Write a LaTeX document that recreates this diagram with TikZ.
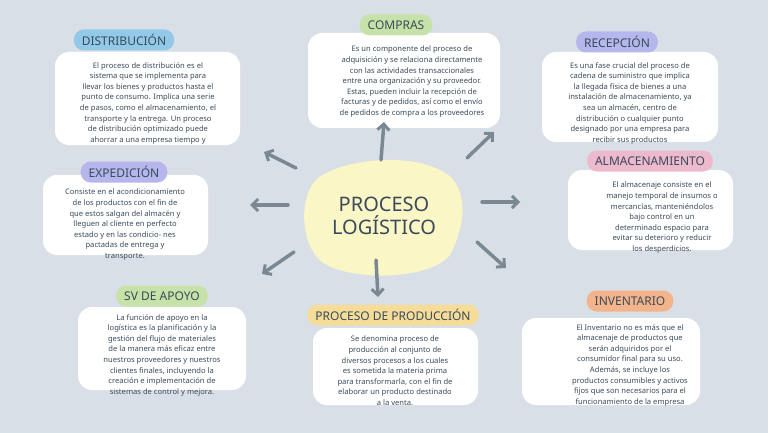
\documentclass[tikz,border=0pt]{standalone}
\usepackage{fontspec}
\setmainfont{Noto Sans}
\usetikzlibrary{arrows.meta}
\definecolor{bg}{HTML}{D9DFE6}
\definecolor{txt}{HTML}{3A4A5A}
\definecolor{arr}{HTML}{7A8893}
\definecolor{cblue}{HTML}{93C9E8}
\definecolor{cgreen}{HTML}{C7E2A8}
\definecolor{cpurple}{HTML}{B4B6EC}
\definecolor{cpink}{HTML}{EDB9CD}
\definecolor{cyellow}{HTML}{F5DC98}
\definecolor{corange}{HTML}{F3B48B}
\definecolor{cblob}{HTML}{FBF6C6}
\tikzset{
  card/.style={fill=white, draw=none, rounded corners=14pt},
  pill/.style={rounded corners=10pt, inner xsep=8pt, minimum height=21pt, font=\fontsize{12}{14}\selectfont, text=txt},
  body/.style={align=center, anchor=north, text=txt, inner sep=0pt, font=\fontsize{7.6}{10.6}\selectfont},
  arrw/.style={draw=arr, line width=3.5pt, line cap=round, -{Straight Barb[length=6pt,width=12pt,line width=3pt]}}
}
\begin{document}
\begin{tikzpicture}[x=1pt,y=-1pt]
\fill[bg] (0,0) rectangle (768,433);
\useasboundingbox (0,0) rectangle (768,433);
\fill[card] (55,52) rectangle (240,145);
\fill[card] (308,33) rectangle (500,128);
\fill[card] (542,52) rectangle (718,142);
\fill[card] (43,175) rectangle (208,255);
\fill[card] (568,170) rectangle (733,250);
\fill[card] (78,307) rectangle (246,390);
\fill[card] (313,328) rectangle (478,405);
\fill[card] (522,318) rectangle (700,405);
\fill[cblob] (318,178) .. controls (345,158) and (420,150) .. (452,178)
  .. controls (470,200) and (462,232) .. (450,255)
  .. controls (430,280) and (350,282) .. (322,262)
  .. controls (300,245) and (298,195) .. (318,178) -- cycle;
\node[text=txt, align=center, font=\fontsize{20}{23}\selectfont] (center) at (384,216) {PROCESO\\LOGÍSTICO};
\node[pill, fill=cblue] (t1) at (124,40) {DISTRIBUCIÓN};
\node[pill, fill=cgreen] (t2) at (396,25) {COMPRAS};
\node[pill, fill=cpurple] (t3) at (617,42) {RECEPCIÓN};
\node[pill, fill=cpurple] (t4) at (124,172) {EXPEDICIÓN};
\node[pill, fill=cpink] (t5) at (650,161) {ALMACENAMIENTO};
\node[pill, fill=cgreen] (t6) at (162,296) {SV DE APOYO};
\node[pill, fill=cyellow] (t7) at (393,315) {PROCESO DE PRODUCCIÓN};
\node[pill, fill=corange] (t8) at (630,301) {INVENTARIO};
\node[body] (b1) at (148,62) {El proceso de distribución es el\\sistema que se implementa para\\llevar los bienes y productos hasta el\\punto de consumo. Implica una serie\\de pasos, como el almacenamiento, el\\transporte y la entrega. Un proceso\\de distribución optimizado puede\\ahorrar a una empresa tiempo y};
\node[body] (b2) at (412,46) {Es un componente del proceso de\\adquisición y se relaciona directamente\\con las actividades transaccionales\\entre una organización y su proveedor.\\Estas, pueden incluir la recepción de\\facturas y de pedidos, así como el envío\\de pedidos de compra a los proveedores};
\node[body] (b3) at (630,62) {Es una fase crucial del proceso de\\cadena de suministro que implica\\la llegada física de bienes a una\\instalación de almacenamiento, ya\\sea un almacén, centro de\\distribución o cualquier punto\\designado por una empresa para\\recibir sus productos};
\node[body] (b4) at (125,189) {Consiste en el acondicionamiento\\de los productos con el fin de\\que estos salgan del almacén y\\lleguen al cliente en perfecto\\estado y en las condicio- nes\\pactadas de entrega y\\transporte.};
\node[body] (b5) at (662,182) {El almacenaje consiste en el\\manejo temporal de insumos o\\mercancías, manteniéndolos\\bajo control en un\\determinado espacio para\\evitar su deterioro y reducir\\los desperdicios.};
\node[body] (b6) at (162,314) {La función de apoyo en la\\logística es la planificación y la\\gestión del flujo de materiales\\de la manera más eficaz entre\\nuestros proveedores y nuestros\\clientes finales, incluyendo la\\creación e implementación de\\sistemas de control y mejora.};
\node[body] (b7) at (395,336) {Se denomina proceso de\\producción al conjunto de\\diversos procesos a los cuales\\es sometida la materia prima\\para transformarla, con el fin de\\elaborar un producto destinado\\a la venta.};
\node[body] (b8) at (630,324) {El Inventario no es más que el\\almacenaje de productos que\\serán adquiridos por el\\consumidor final para su uso.\\Además, se incluye los\\productos consumibles y activos\\fijos que son necesarios para el\\funcionamiento de la empresa};
\coordinate (s1) at (381,160); \coordinate (e1) at (384,122);
\coordinate (s2) at (467,158); \coordinate (e2) at (494,132);
\coordinate (s3) at (296,168); \coordinate (e3) at (264,152);
\coordinate (s4) at (288,205); \coordinate (e4) at (250,205);
\coordinate (s5) at (482,202); \coordinate (e5) at (520,202);
\coordinate (s6) at (294,252); \coordinate (e6) at (262,274);
\coordinate (s7) at (376,260); \coordinate (e7) at (378,297);
\coordinate (s8) at (477,242); \coordinate (e8) at (506,268);
\draw[arrw] (s1) -- (e1);
\draw[arrw] (s2) -- (e2);
\draw[arrw] (s3) -- (e3);
\draw[arrw] (s4) -- (e4);
\draw[arrw] (s5) -- (e5);
\draw[arrw] (s6) -- (e6);
\draw[arrw] (s7) -- (e7);
\draw[arrw] (s8) -- (e8);
\end{tikzpicture}
\end{document}
